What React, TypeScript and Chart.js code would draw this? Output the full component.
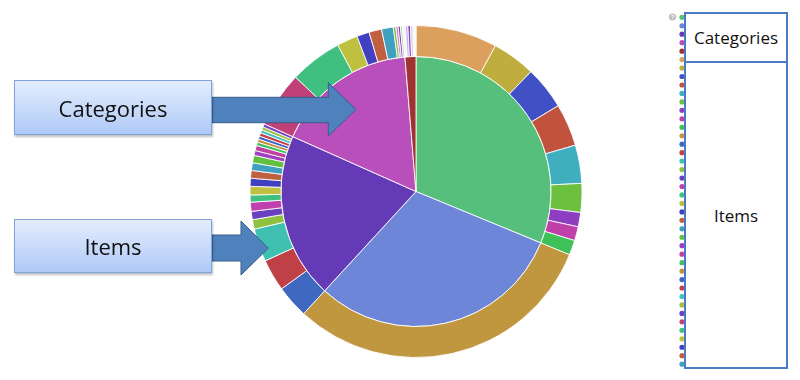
import React, { useEffect, useRef } from "react";
import { Chart, registerables } from "chart.js";

Chart.register(...registerables);

// ---------- data ----------
const categoryLabels = ["Category 1", "Category 2", "Category 3", "Category 4", "Category 5"];
const categoryValues = [112.4, 110.2, 71.4, 61.3, 4.7];
const categoryColors = ["#56BF7B", "#6E86D8", "#653AB7", "#B94FBA", "#A03232"];

const itemValues = [
  // category 1
  28.6, 15.2, 15.1, 14.9, 13.4, 10.1, 5.0, 4.9, 5.2,
  // category 2
  110.2,
  // category 3
  11.5, 11.2, 11.6, 3.3, 2.9, 3.2, 2.5, 3.0, 2.8, 2.7, 2.7, 2.6, 1.7, 1.8,
  1.2, 1.1, 1.1, 1.2, 1.1, 1.1, 1.1,
  // category 4
  19.5, 18.4, 7.3, 4.4, 4.4, 4.1, 0.9, 0.8, 0.8, 0.7,
  // category 5
  1.0, 0.9, 0.9, 0.9, 1.0,
];
const itemColors = [
  "#DBA05E", "#BFAE3F", "#3F51C4", "#C0523E", "#3FAFC0", "#6DBF40", "#8E3FC0", "#C03FA8", "#3FC058",
  "#C0963F",
  "#3F68C0", "#C04048", "#40C0B0", "#8FC040", "#6A40C0", "#C040B0", "#40C080", "#C0C040", "#4040C0",
  "#C06040", "#40A0C0", "#60C040", "#A040C0", "#C040A0",
  "#40C060", "#C09040", "#4060C0", "#C04050", "#40C0C0", "#A0C040", "#7040C0",
  "#C0407A", "#40C080", "#C0C040", "#4040C0", "#C06040", "#40A0C0", "#80C040", "#D080D0", "#9040C0", "#A0E0A0",
  "#F4F4F4", "#C8B0E8", "#8040D0", "#D8D8D8", "#F8F8F8",
];
const itemLabels = itemValues.map((_, i) => `Item ${i + 1}`);

const legendDotCount = 42;
const annotationLeft = ["Categories", "Items"];
const annotationRight = ["Categories", "Items"];

const FONT = "'Segoe UI', 'Open Sans', 'Noto Sans', sans-serif";

const legendDotsPlugin = {
  id: "legendDots",
  afterDraw(chart: any) {
    const ctx = chart.ctx as CanvasRenderingContext2D;
    const inner = chart.data.datasets[1].backgroundColor as string[];
    const outer = chart.data.datasets[0].backgroundColor as string[];
    const colors = [...inner, ...outer].slice(0, legendDotCount);
    ctx.save();
    colors.forEach((c, i) => {
      ctx.beginPath();
      ctx.arc(682, 17.3 + i * 8.46, 2.6, 0, Math.PI * 2);
      ctx.fillStyle = c;
      ctx.fill();
    });
    ctx.beginPath();
    ctx.arc(672.5, 17, 3.6, 0, Math.PI * 2);
    ctx.fillStyle = "#BDBDBD";
    ctx.fill();
    ctx.fillStyle = "#ffffff";
    ctx.font = "bold 6px sans-serif";
    ctx.textAlign = "center";
    ctx.textBaseline = "middle";
    ctx.fillText("?", 672.5, 17.4);
    ctx.restore();
  },
};

export default function App() {
  const ref = useRef<HTMLCanvasElement | null>(null);

  useEffect(() => {
    if (!ref.current) return;
    const chart = new Chart(ref.current, {
      type: "doughnut",
      data: {
        labels: itemLabels,
        datasets: [
          {
            label: "Items",
            data: itemValues,
            backgroundColor: itemColors,
            borderColor: "rgba(255,255,255,0.85)",
            borderWidth: 1,
            weight: 31,
          } as any,
          {
            label: "Categories",
            data: categoryValues,
            backgroundColor: categoryColors,
            borderColor: "rgba(255,255,255,0.85)",
            borderWidth: 1,
            weight: 135,
          } as any,
        ],
      },
      options: {
        responsive: false,
        animation: false,
        devicePixelRatio: 1,
        cutout: 0,
        layout: { padding: { left: 249.5, right: 217.5, top: 25, bottom: 22 } },
        plugins: {
          legend: { display: false },
          tooltip: { enabled: false },
        },
      },
      plugins: [legendDotsPlugin],
    });
    return () => chart.destroy();
  }, []);

  const leftBox: React.CSSProperties = {
    position: "absolute",
    left: 14,
    width: 198,
    boxSizing: "border-box",
    border: "1px solid #7EA2DB",
    background: "linear-gradient(#E4EDFD, #AFC9F7)",
    boxShadow: "1px 2px 2px rgba(0,0,0,0.25)",
    display: "flex",
    alignItems: "center",
    justifyContent: "center",
    fontFamily: FONT,
    fontSize: 22,
    color: "#111",
  };
  const rightBox: React.CSSProperties = {
    position: "absolute",
    left: 684,
    width: 104,
    boxSizing: "border-box",
    border: "2px solid #4A7CC5",
    background: "#fff",
    display: "flex",
    alignItems: "center",
    justifyContent: "center",
    fontFamily: FONT,
    fontSize: 17,
    color: "#111",
  };

  return (
    <div style={{ position: "absolute", left: 0, top: 0, width: 800, height: 380, background: "#fff", overflow: "hidden" }}>
      <canvas ref={ref} width={800} height={380} style={{ position: "absolute", left: 0, top: 0 }} />
      <svg width={800} height={380} style={{ position: "absolute", left: 0, top: 0 }}>
        <polygon
          points="212,97.3 328.3,97.3 328.3,82.7 356,109.5 328.3,136 328.3,122.7 212,122.7"
          fill="#4F81BD"
          stroke="#385D8A"
          strokeWidth={1}
        />
        <polygon
          points="212,235 241,235 241,221 268.3,248.2 241,275 241,261 212,261"
          fill="#4F81BD"
          stroke="#385D8A"
          strokeWidth={1}
        />
      </svg>
      <div style={{ ...leftBox, top: 80, height: 55 }}>{annotationLeft[0]}</div>
      <div style={{ ...leftBox, top: 219, height: 54 }}>{annotationLeft[1]}</div>
      <div style={{ ...rightBox, top: 12, height: 51 }}>{annotationRight[0]}</div>
      <div style={{ ...rightBox, top: 61, height: 308 }}>{annotationRight[1]}</div>
    </div>
  );
}
